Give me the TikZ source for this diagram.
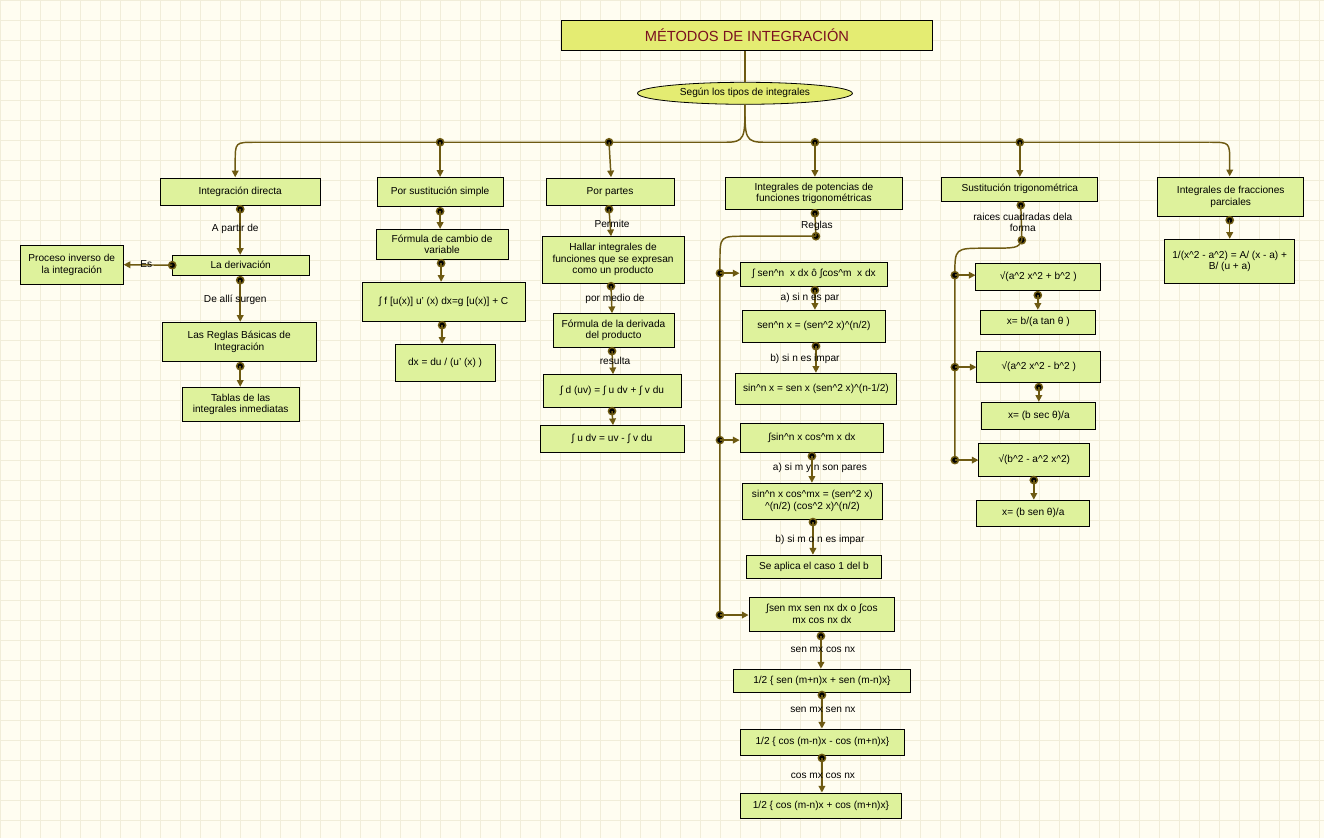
\documentclass[tikz,border=0pt]{standalone}
\usepackage{fontspec}
\setmainfont{Liberation Sans}
\usetikzlibrary{arrows.meta,shapes.geometric}
\definecolor{ln}{HTML}{6E5A12}
\definecolor{bx}{HTML}{DEF29C}
\definecolor{tt}{HTML}{E4EC72}
\definecolor{bg}{HTML}{FFFDF1}
\definecolor{gr}{HTML}{F1EDD9}
\definecolor{tr}{HTML}{7A1020}
\tikzset{
 box/.style={draw=black,line width=0.6pt,fill=bx,align=center,inner sep=1pt,font=\fontsize{7.6}{8.6}\selectfont},
 arr/.style={draw=ln,line width=1.1pt,-{Triangle[length=5pt,width=5pt]}},
 ln/.style={draw=ln,line width=1.1pt},
 lab/.style={font=\fontsize{7.6}{8.6}\selectfont,align=center,inner sep=0pt},
}
\newcommand\B[6]{\node[box,minimum width={(#4-#2)*0.75pt},minimum height={(#5-#3)*0.75pt}] (#1) at ({(#2+#4)/2},{(#3+#5)/2}) {#6};}
\newcommand\D[3]{\coordinate (#1) at (#2,#3); \fill[ln] (#1) circle (3.6);}
\begin{document}
\begin{tikzpicture}[x=0.75pt,y=-0.75pt]
\fill[bg] (0,0) rectangle (1324,838);
\foreach \i in {0,20,...,1320} \draw[gr,line width=0.5pt] (\i,0) -- (\i,838);
\foreach \i in {0,20,...,830} \draw[gr,line width=0.5pt] (0,\i) -- (1324,\i);
\useasboundingbox (0,0) rectangle (1324,838);
% title
\node[draw=black,line width=0.6pt,fill=tt,minimum width={372*0.75pt},minimum height={30*0.75pt},font=\fontsize{11}{12}\selectfont,text=tr] (title) at (747,35) {MÉTODOS DE INTEGRACIÓN};
\node[ellipse,draw=black,line width=0.6pt,fill=tt,minimum width={215*0.75pt},minimum height={22*0.75pt},inner sep=0pt,font=\fontsize{7.6}{8.6}\selectfont] (ell) at (745,93) {Según los tipos de integrales};
\draw[ln] (title.south -| ell.north) -- (ell.north);
% row 1
\B{d}{160}{178}{320}{205}{Integración directa}
\B{s}{377}{177}{503}{206}{Por sustitución simple}
\B{p}{546}{178}{674}{205}{Por partes}
\B{t}{725}{177}{903}{209}{Integrales de potencias de\\funciones trigonométricas}
\B{q}{942}{177}{1098}{201}{Sustitución trigonométrica}
\B{f}{1158}{177}{1304}{216}{Integrales de fracciones\\parciales}
% bus
\draw[ln] (ell.south) .. controls (745,138) and (745,142) .. (725,142) -- (255,142);
\draw[ln] (ell.south) .. controls (745,138) and (745,142) .. (765,142) -- (1210,142);
\draw[arr] (255,142) .. controls (235,142) .. (235,162) -- (235,177);
\draw[arr] (1210,142) .. controls (1230,142) .. (1230,162) -- (1230,176);
\D{b1}{440}{142}\D{b2}{609}{142}\D{b3}{815}{142}\D{b4}{1020}{142}
\draw[arr] (b1) -- (s.north -| b1);
\draw[arr] (b2) -- (611,177);
\draw[arr] (b3) -- (t.north -| b3);
\draw[arr] (b4) -- (q.north -| b4);
% column 1
\B{der}{172}{255}{309}{275}{La derivación}
\B{pi}{20}{245}{123}{284}{Proceso inverso de\\la integración}
\B{rb}{162}{322}{316}{361}{Las Reglas Básicas de\\Integración}
\B{tb}{182}{387}{299}{421}{Tablas de las\\integrales inmediatas}
\D{c1}{240}{209}\draw[arr] (c1) -- (der.north -| c1);
\node[lab] at (235,229) {A partir de};
\D{c2}{172}{265}\draw[arr] (c2) -- (pi.east);
\node[lab] at (146,264) {Es};
\D{c3}{240}{280}\draw[arr] (c3) -- (rb.north -| c3);
\node[lab] at (235,300) {De allí surgen};
\D{c4}{240}{366}\draw[arr] (c4) -- (tb.north -| c4);
% column 2
\B{s1}{376}{229}{508}{259}{Fórmula de cambio de\\variable}
\B{s2}{362}{282}{525}{321}{∫ f [u(x)] u' (x) dx=g [u(x)] + C}
\B{s3}{395}{344}{495}{381}{dx = du / (u' (x) )}
\D{e1}{440}{211}\draw[arr] (e1) -- (s1.north -| e1);
\D{e2}{441}{263}\draw[arr] (e2) -- (s2.north -| e2);
\D{e3}{442}{325}\draw[arr] (e3) -- (s3.north -| e3);
% column 3
\B{p1}{542}{236}{684}{283}{Hallar integrales de\\funciones que se expresan\\como un producto}
\B{p2}{553}{313}{674}{347}{Fórmula de la derivada\\del producto}
\B{p3}{543}{374}{681}{407}{∫ d (uv) = ∫ u dv + ∫ v du}
\B{p4}{540}{425}{684}{452}{∫ u dv = uv - ∫ v du}
\D{g1}{609}{209}\draw[arr] (g1) -- (611,236);
\node[lab] at (612,224) {Permite};
\D{g2}{611}{286}\draw[arr] (g2) -- (612,313);
\node[lab] at (615,299) {por medio de};
\D{g3}{612}{351}\draw[arr] (g3) -- (613,374);
\node[lab] at (615,361) {resulta};
\D{g4}{612}{411}\draw[arr] (g4) -- (613,425);
% column 4
\B{a1}{740}{262}{888}{286}{∫ sen\^{}n\ \ x dx ô ∫cos\^{}m\ \ x dx}
\B{a2}{742}{310}{886}{342}{sen\^{}n x = (sen\^{}2 x)\^{}(n/2)}
\B{a3}{735}{373}{897}{404}{sin\^{}n x = sen x (sen\^{}2 x)\^{}(n-1/2)}
\B{m1}{740}{423}{884}{452}{∫sin\^{}n x cos\^{}m x dx}
\B{m2}{742}{483}{883}{519}{sin\^{}n x cos\^{}mx = (sen\^{}2 x)\\\^{}(n/2) (cos\^{}2 x)\^{}(n/2)}
\B{m3}{746}{555}{882}{578}{Se aplica el caso 1 del b}
\B{k1}{749}{597}{895}{631}{∫sen mx sen nx dx o ∫cos\\mx cos nx dx}
\B{k2}{733}{669}{911}{692}{1/2 \{ sen (m+n)x + sen (m-n)x\}}
\B{k3}{740}{729}{905}{755}{1/2 \{ cos (m-n)x - cos (m+n)x\}}
\B{k4}{740}{793}{902}{818}{1/2 \{ cos (m-n)x + cos (m+n)x\}}
\D{h0}{815}{213}\D{h1}{816}{236}
\draw[ln] (h0) -- (h1);
\node[lab] at (817,226) {Reglas};
\draw[ln] (h1) -- (745,236) .. controls (720,236) .. (720,261) -- (720,615);
\D{v1}{720}{273}\D{v2}{720}{440}\D{v3}{720}{615}
\draw[arr] (v1) -- (a1.west |- v1);
\draw[arr] (v2) -- (m1.west |- v2);
\draw[arr] (v3) -- (k1.west |- v3);
\D{i1}{815}{290}\draw[arr] (i1) -- (a2.north -| i1);
\node[lab] at (810,298) {a) si n es par};
\D{i2}{816}{346}\draw[arr] (i2) -- (a3.north -| i2);
\node[lab] at (805,359) {b) si n es impar};
\D{i3}{812}{456}\draw[arr] (i3) -- (m2.north -| i3);
\node[lab] at (820,468) {a) si m y n son pares};
\D{i4}{813}{522}\draw[arr] (i4) -- (m3.north -| i4);
\node[lab] at (820,540) {b) si m o n es impar};
\D{i5}{821}{636}\draw[arr] (i5) -- (k2.north -| i5);
\node[lab] at (823,650) {sen mx cos nx};
\D{i6}{822}{695}\draw[arr] (i6) -- (k3.north -| i6);
\node[lab] at (823,710) {sen mx sen nx};
\D{i7}{822}{758}\draw[arr] (i7) -- (k4.north -| i7);
\node[lab] at (823,776) {cos mx cos nx};
% column 5
\B{r1}{976}{263}{1101}{290}{√(a\^{}2 x\^{}2 + b\^{}2 )}
\B{r2}{981}{310}{1096}{334}{x= b/(a tan θ )}
\B{r3}{977}{351}{1101}{382}{√(a\^{}2 x\^{}2 - b\^{}2 )}
\B{r4}{982}{402}{1096}{429}{x= (b sec θ)/a}
\B{r5}{979}{443}{1090}{476}{√(b\^{}2 - a\^{}2 x\^{}2)}
\B{r6}{977}{500}{1090}{526}{x= (b sen θ)/a}
\D{j0}{1021}{205}\D{j1}{1022}{240}
\draw[ln] (j0) -- (j1);
\node[lab] at (1023,222) {raices cuadradas dela\\forma};
\draw[ln] (j1) .. controls (1018,248) .. (985,248) .. controls (955,248) .. (955,275) -- (955,460);
\D{w1}{955}{275}\D{w2}{955}{367}\D{w3}{955}{460}
\draw[arr] (w1) -- (r1.west |- w1);
\draw[arr] (w2) -- (r3.west |- w2);
\draw[arr] (w3) -- (r5.west |- w3);
\D{o1}{1038}{295}\draw[arr] (o1) -- (r2.north -| o1);
\D{o2}{1039}{387}\draw[arr] (o2) -- (r4.north -| o2);
\D{o3}{1034}{480}\draw[arr] (o3) -- (r6.north -| o3);
% column 6
\B{f1}{1165}{239}{1295}{283}{1/(x\^{}2 - a\^{}2) = A/ (x - a) +\\B/ (u + a)}
\D{u1}{1230}{220}\draw[arr] (u1) -- (f1.north -| u1);
\end{tikzpicture}
\end{document}
